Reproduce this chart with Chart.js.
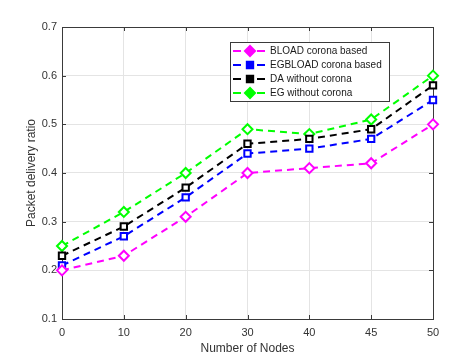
<!DOCTYPE html>
<html>
<head>
<meta charset="utf-8">
<script src="https://cdn.jsdelivr.net/npm/chart.js@4/dist/chart.umd.min.js"></script>
<style>
html,body{margin:0;padding:0;background:#fff;}
#wrap{width:474px;height:355px;}
</style>
</head>
<body>
<div id="wrap"><canvas id="c" width="474" height="355"></canvas></div>
<script>
const categories = ['0', '10', '20', '30', '40', '45', '50'];
const bload   = [0.20, 0.23, 0.31, 0.40, 0.41, 0.42, 0.50];
const egbload = [0.21, 0.27, 0.35, 0.44, 0.45, 0.47, 0.55];
const daNo    = [0.23, 0.29, 0.37, 0.46, 0.47, 0.49, 0.58];
const egNo    = [0.25, 0.32, 0.40, 0.49, 0.48, 0.51, 0.60];
const seriesNames = ['BLOAD corona based', 'EGBLOAD corona based', 'DA without corona', 'EG without corona'];
const yTicks = [0.1, 0.2, 0.3, 0.4, 0.5, 0.6, 0.7];

const FONT = '"Liberation Sans", Arial, Helvetica, sans-serif';

function ds(label, data, color, style, radius) {
  return {
    label, data,
    borderColor: color,
    backgroundColor: '#ffffff',
    borderWidth: 2,
    borderDash: [7, 5],
    pointStyle: style,
    pointRadius: radius,
    pointBorderColor: color,
    pointBackgroundColor: '#ffffff',
    pointBorderWidth: 2,
    tension: 0,
    fill: false
  };
}

const boxPlugin = {
  id: 'boxPlugin',
  beforeDatasetsDraw(chart) {
    const {ctx, chartArea: a, scales} = chart;
    ctx.save();
    ctx.strokeStyle = '#3a3a3a';
    ctx.lineWidth = 1;
    ctx.strokeRect(a.left + 0.5, a.top + 0.5, a.right - a.left, a.bottom - a.top);
    ctx.beginPath();
    const x = scales.x, y = scales.y;
    for (let i = 0; i < x.ticks.length; i++) {
      const px = Math.round(x.getPixelForTick(i)) + 0.5;
      ctx.moveTo(px, a.bottom); ctx.lineTo(px, a.bottom - 4);
      ctx.moveTo(px, a.top); ctx.lineTo(px, a.top + 4);
    }
    for (let i = 0; i < y.ticks.length; i++) {
      const py = Math.round(y.getPixelForTick(i)) + 0.5;
      ctx.moveTo(a.left, py); ctx.lineTo(a.left + 4, py);
      ctx.moveTo(a.right, py); ctx.lineTo(a.right - 4, py);
    }
    ctx.stroke();
    ctx.restore();
  }
};

const legendPlugin = {
  id: 'boxLegend',
  afterDatasetsDraw(chart) {
    const {ctx} = chart;
    const bx = 230, by = 42, bw = 159, bh = 59;
    ctx.save();
    ctx.fillStyle = '#ffffff';
    ctx.fillRect(bx, by, bw, bh);
    ctx.strokeStyle = '#3a3a3a';
    ctx.lineWidth = 1;
    ctx.strokeRect(bx + 0.5, by + 0.5, bw, bh);
    ctx.font = '10px ' + FONT;
    ctx.textBaseline = 'middle';
    ctx.textAlign = 'left';
    chart.data.datasets.forEach((d, i) => {
      const yy = by + 9 + i * 14;
      ctx.save();
      ctx.strokeStyle = d.borderColor;
      ctx.lineWidth = 2;
      ctx.beginPath();
      ctx.moveTo(233, yy); ctx.lineTo(241, yy);
      ctx.moveTo(257, yy); ctx.lineTo(265, yy);
      ctx.stroke();
      ctx.restore();
      Chart.helpers.drawPoint(ctx, {
        pointStyle: d.pointStyle, radius: d.pointRadius, borderWidth: 2
      }, 250, yy);
      ctx.save();
      ctx.fillStyle = d.borderColor;
      ctx.strokeStyle = d.borderColor;
      ctx.lineWidth = 2;
      Chart.helpers.drawPoint(ctx, {pointStyle: d.pointStyle, radius: d.pointRadius, borderWidth: 2}, 250, yy);
      ctx.restore();
      ctx.fillStyle = '#1a1a1a';
      ctx.fillText(d.label, 270, yy + 0.5);
    });
    ctx.restore();
  }
};

new Chart(document.getElementById('c'), {
  type: 'line',
  data: {
    labels: categories,
    datasets: [
      ds(seriesNames[0], bload, '#ff00ff', 'rectRot', 5),
      ds(seriesNames[1], egbload, '#0000ff', 'rect', 4.5),
      ds(seriesNames[2], daNo, '#000000', 'rect', 4.5),
      ds(seriesNames[3], egNo, '#00ff00', 'rectRot', 5)
    ]
  },
  options: {
    responsive: false,
    animation: false,
    devicePixelRatio: 1,
    layout: {padding: {left: 0, right: 41, top: 27, bottom: 0}},
    plugins: {legend: {display: false}, tooltip: {enabled: false}},
    scales: {
      x: {
        type: 'category',
        offset: false,
        grid: {color: '#e4e4e4', drawTicks: false},
        border: {display: false},
        ticks: {color: '#333333', font: {family: FONT, size: 11}, padding: 7, maxRotation: 0},
        title: {display: true, text: 'Number of Nodes', color: '#333333',
                font: {family: FONT, size: 12, lineHeight: 1}, padding: {top: 0, bottom: 0}},
        afterFit(s) { s.height = 36; }
      },
      y: {
        min: 0.1, max: 0.7,
        afterBuildTicks(s) { s.ticks = yTicks.map(v => ({value: v})); },
        grid: {color: '#e4e4e4', drawTicks: false},
        border: {display: false},
        ticks: {color: '#333333', font: {family: FONT, size: 11}, padding: 5,
                callback: v => String(Math.round(v * 10) / 10)},
        title: {display: true, text: 'Packet delivery ratio', color: '#333333',
                font: {family: FONT, size: 12, lineHeight: 1}, padding: {top: 26, bottom: 0}},
        afterFit(s) { s.width = 62; }
      }
    }
  },
  plugins: [boxPlugin, legendPlugin]
});
</script>
</body>
</html>
